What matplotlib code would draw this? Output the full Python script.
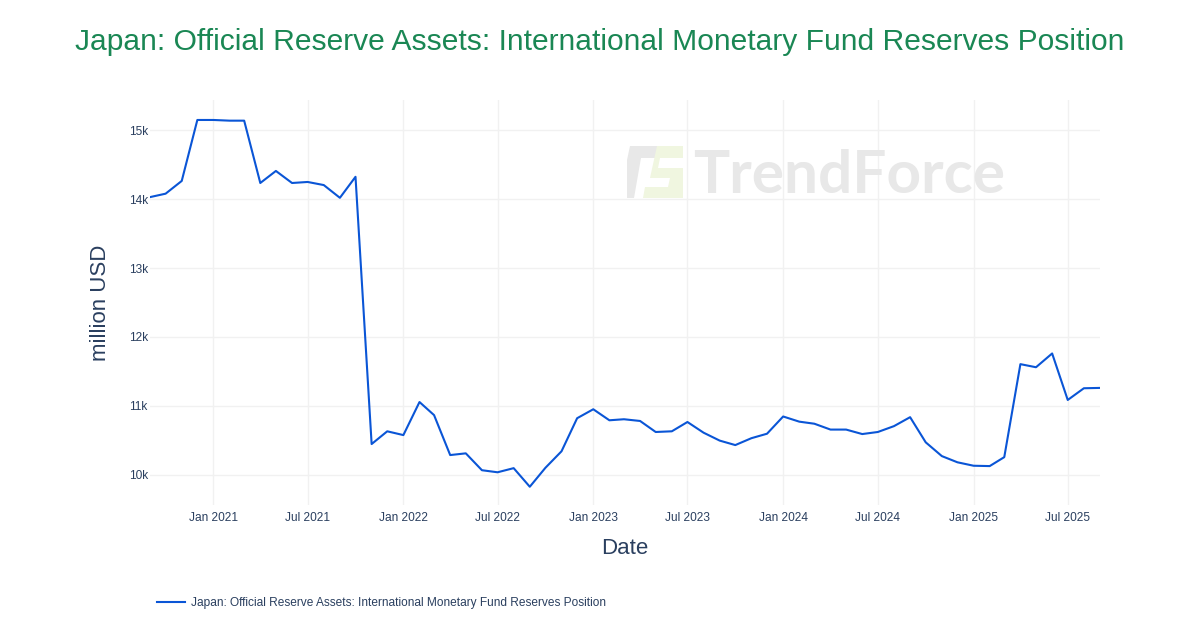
import pandas as pd
import matplotlib.pyplot as plt
import matplotlib.dates as mdates
from matplotlib.patches import Polygon
from matplotlib.ticker import FuncFormatter

plt.rcParams['font.family'] = ['Liberation Sans', 'DejaVu Sans']

# monthly values, million USD, Sep 2020 .. Sep 2025
dates = pd.date_range('2020-09-01', periods=61, freq='MS')
values = [
    14030, 14080, 14265, 15150, 15150, 15140, 15140, 14235, 14410, 14235,
    14250, 14205, 14020, 14325, 10445, 10630, 10575, 11055, 10865, 10285,
    10310, 10065, 10035, 10095, 9825, 10100, 10340, 10820, 10950, 10790,
    10805, 10780, 10620, 10630, 10765, 10610, 10495, 10430, 10530, 10595,
    10845, 10770, 10740, 10655, 10655, 10590, 10620, 10705, 10835, 10470,
    10270, 10180, 10130, 10125, 10255, 11605, 11560, 11760, 11085, 11255,
    11260,
]
series_name = 'Japan: Official Reserve Assets: International Monetary Fund Reserves Position'
title = 'Japan: Official Reserve Assets: International Monetary Fund Reserves Position'

text_col = '#2a3f5f'
grid_col = '#f1f1f1'

fig = plt.figure(figsize=(12, 6.3), dpi=100)
ax = fig.add_axes([150 / 1200, 1 - 505 / 630, 950 / 1200, 405 / 630])

# watermark
wm_col = '#e8e8e8'
fig.text(693 / 1200, 1 - 193 / 630, 'TrendForce', fontsize=43.5, fontweight='bold',
         family=['Lato', 'DejaVu Sans'], color=wm_col, ha='left',
         va='baseline', zorder=0)
gray_logo = [(630, 146), (660, 146), (656, 158), (641, 158), (634, 198), (627, 198), (627, 160)]
green_logo = [(663, 146), (683, 146), (683, 158), (660, 158), (658, 168), (683, 168),
              (683, 198), (643, 198), (645, 187), (668, 187), (670, 178), (650, 178), (657, 146)]
for pts, c in [(gray_logo, '#e8e8e8'), (green_logo, '#f0f6e0')]:
    poly = Polygon([(x / 1200, 1 - y / 630) for x, y in pts], closed=True,
                   transform=fig.transFigure, facecolor=c, edgecolor='none', zorder=0)
    fig.patches.append(poly)

ax.set_facecolor('none')
ax.plot(dates, values, color='#0a55d6', lw=1.5, label=series_name, zorder=3)

ax.set_xlim(pd.Timestamp('2020-09-01'), pd.Timestamp('2025-09-01'))
ax.set_ylim(9560, 15440)
ax.set_yticks([10000, 11000, 12000, 13000, 14000, 15000])
ax.yaxis.set_major_formatter(FuncFormatter(lambda v, p: f'{int(v / 1000)}k'))
ax.xaxis.set_major_locator(mdates.MonthLocator(bymonth=[1, 7]))
ax.xaxis.set_major_formatter(mdates.DateFormatter('%b %Y'))

ax.grid(True, color=grid_col, lw=1)
for s in ax.spines.values():
    s.set_visible(False)
ax.tick_params(axis='both', length=0, labelsize=8.6, labelcolor=text_col)
ax.tick_params(axis='y', pad=1.5)
ax.tick_params(axis='x', pad=5)

ax.set_xlabel('Date', fontsize=16, color=text_col, labelpad=10)
fig.text(100 / 1200, 1 - 303 / 630, 'million USD', fontsize=16, color=text_col,
         rotation=90, ha='center', va='center')

fig.text(0.5, 1 - 42 / 630, title, fontsize=21.6, color='#1a8754',
         ha='center', va='center')

leg = ax.legend(loc='center left', bbox_to_anchor=(152 / 1200, 1 - 603 / 630),
                bbox_transform=fig.transFigure, frameon=False, fontsize=8.6,
                handlelength=2.4, handletextpad=0.45, borderaxespad=0)
for t in leg.get_texts():
    t.set_color(text_col)

fig.savefig('out.png', dpi=100)
